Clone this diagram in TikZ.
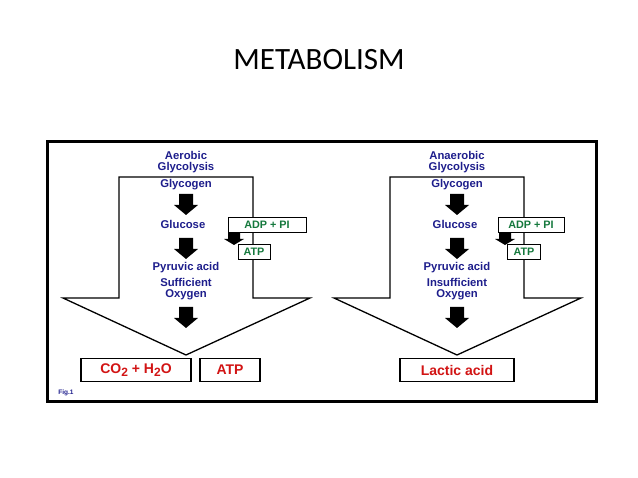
\documentclass[tikz,border=0pt]{standalone}
\usepackage{fontspec}
\setmainfont{Liberation Sans}
\newfontfamily\titlefont{Carlito}
\definecolor{navy}{RGB}{30,30,140}
\definecolor{grn}{RGB}{20,120,60}
\definecolor{rd}{RGB}{210,20,20}
\begin{document}
\begin{tikzpicture}[x=1pt,y=-1pt,
 lbl/.style={text=navy,font=\bfseries\fontsize{11.3}{11}\selectfont,inner sep=0pt,align=center},
 gbox/.style={draw,fill=white,line width=1pt,text=grn,font=\bfseries\fontsize{10.8}{10}\selectfont,inner sep=1.5pt,minimum height=15pt},
 rbox/.style={draw,fill=white,line width=1.5pt,text=rd,font=\bfseries\fontsize{14}{14}\selectfont,minimum height=23pt,inner sep=2pt},
 big/.style={draw,line width=1.3pt,fill=white,line join=miter},
 blk/.style={fill=black}]
\useasboundingbox (0,0) rectangle (638,478);
\node[font=\titlefont\fontsize{31}{34}\selectfont] (title) at (319,60) {METABOLISM};
\draw[line width=3pt] (47,142) rectangle (596,402);
\newcommand\bigarrow[1]{%
 \draw[big] (#1-67,177) -- (#1+67,177) -- (#1+67,298) -- (#1+124,298) -- (#1,355) -- (#1-123,298) -- (#1-67,298) -- cycle;}
\newcommand\smallarrow[2]{%
 \fill[blk] (#1-7,#2) -- (#1+7,#2) -- (#1+7,#2+11) -- (#1+12,#2+11) -- (#1,#2+21) -- (#1-12,#2+11) -- (#1-7,#2+11) -- cycle;}
\bigarrow{186}
\bigarrow{457}
\foreach \x in {186,457}{\smallarrow{\x}{194}\smallarrow{\x}{238}\smallarrow{\x}{307}}
% left labels
\node[lbl] (aer) at (186,162) {Aerobic\\Glycolysis};
\node[lbl] (gly1) at (186,185) {Glycogen};
\node[lbl] (glu1) at (183,224) {Glucose};
\node[gbox,minimum width=78pt] (adp1) at (267,225) {ADP + PI};
\node[gbox,minimum width=32pt] (atp1) at (254,252) {ATP};
\node[lbl] (pyr1) at (186,268) {Pyruvic acid};
\node[lbl] (ox1) at (186,289) {Sufficient\\Oxygen};
\node[rbox,minimum width=110pt] (co2) at (136,370) {CO\raisebox{-3pt}{\fontsize{12}{12}\selectfont 2} + H\raisebox{-3pt}{\fontsize{12}{12}\selectfont 2}O};
\node[rbox,minimum width=60pt] (atp3) at (230,370) {ATP};
\node[text=navy,font=\bfseries\fontsize{6.5}{7}\selectfont] (fig) at (66,393) {Fig.1};
% right labels
\node[lbl] (ana) at (457,162) {Anaerobic\\Glycolysis};
\node[lbl] (gly2) at (457,185) {Glycogen};
\node[lbl] (glu2) at (455,224) {Glucose};
\node[gbox,minimum width=66pt] (adp2) at (531,225) {ADP + PI};
\node[gbox,minimum width=33pt] (atp2) at (524,252) {ATP};
\node[lbl] (pyr2) at (457,268) {Pyruvic acid};
\node[lbl] (ox2) at (457,289) {Insufficient\\Oxygen};
\node[rbox,minimum width=114pt] (lac) at (457,370) {Lactic acid};
\fill[blk] (228,233) -- (240,233) -- (240,239) -- (244,239) -- (234,245) -- (224,239) -- (228,239) -- cycle;
\fill[blk] (499,233) -- (511,233) -- (511,239) -- (515,239) -- (505,245) -- (495,239) -- (499,239) -- cycle;
\end{tikzpicture}
\end{document}
